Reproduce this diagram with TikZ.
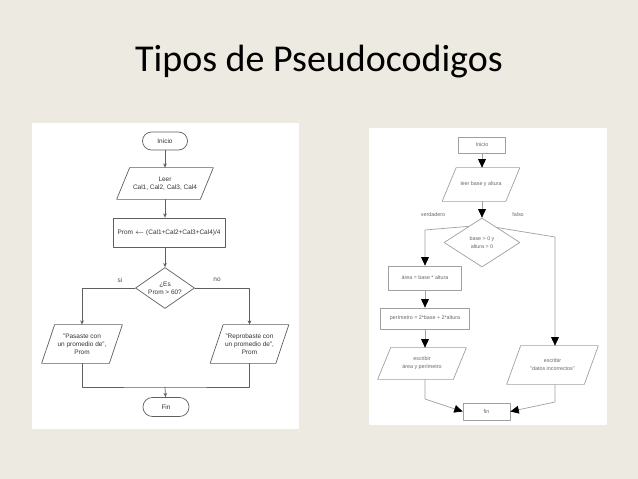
\documentclass[tikz,border=0pt]{standalone}
\usepackage{fontspec}
\setmainfont{Liberation Sans}
\newfontfamily\titlefont{Carlito}
\usetikzlibrary{shapes.geometric,arrows.meta,calc}
\definecolor{fondo}{RGB}{237,235,225}
\definecolor{linea}{RGB}{95,95,95}
\definecolor{lineaclara}{RGB}{160,160,160}
\tikzset{
	izq/.style={draw=linea, line width=0.5pt, text=black!80, font=\fontsize{4.6}{5.8}\selectfont, align=center, inner sep=0pt},
	der/.style={draw=lineaclara, line width=0.5pt, text=black!60, font=\fontsize{3.8}{5.6}\selectfont, align=center, inner sep=0pt},
	para/.style={rectangle, draw=none},
	flecha/.style={draw=linea, line width=0.5pt, -{Stealth[length=3pt,width=2.6pt]}},
	triflecha/.style={draw=lineaclara, line width=0.5pt, -{Triangle[length=6pt,width=5.5pt,fill=black,color=black]}},
}
% contorno inclinado de un nodo de entrada/salida
\newcommand{\paralelo}[3]{\draw[#1, line width=0.5pt] ($(#2.north west)+(#3,0)$) -- (#2.north east) -- ($(#2.south east)-(#3,0)$) -- (#2.south west) -- cycle;}
\begin{document}
\begin{tikzpicture}[x=0.025cm, y=-0.025cm, line join=round, line cap=round]
	\fill[fondo] (0,0) rectangle (638,479);
	\useasboundingbox (0,0) rectangle (638,479);
	
	\node[font=\titlefont\fontsize{27}{30}\selectfont, anchor=base] (titulo) at (319,72) {Tipos de Pseudocodigos};
	
	\fill[white] (32,123) rectangle (299,429);
	\fill[white] (369,128) rectangle (607,425);
	
	% promedio
	\coordinate (union) at (165,387);
	
	\node[izq, rounded corners=0.225cm, minimum width=1.125cm, minimum height=0.45cm] (inicio) at (165,141) {Inicio};
	\node[izq, para, minimum width=2.4cm, minimum height=0.775cm] (leer) at (165,183.5) {Leer\\Cal1, Cal2, Cal3, Cal4};
	\node[izq, rectangle, minimum width=2.8cm, minimum height=0.725cm] (prom) at (169,232.5) {Prom $\leftarrow$ (Cal1+Cal2+Cal3+Cal4)/4};
	\node[izq, diamond, aspect=1.44, minimum width=1.475cm, minimum height=1.025cm] (cond) at (165,288) {¿Es\\Prom > 60?};
	\node[izq, para, minimum width=2.0cm, minimum height=0.95cm] (pasaste) at (82,344) {"Pasaste con\\un promedio de",\\Prom};
	\node[izq, para, minimum width=1.95cm, minimum height=0.95cm] (reprobaste) at (249.5,344) {"Reprobaste con\\un promedio de",\\Prom};
	\node[izq, rounded corners=0.235cm, minimum width=1.15cm, minimum height=0.475cm] (fin) at (166,407) {Fin};
	
	\paralelo{linea}{leer}{13}
	\paralelo{linea}{pasaste}{13}
	\paralelo{linea}{reprobaste}{13}
	
	\draw[flecha] (inicio) -- (leer);
	\draw[flecha] (leer.south) -- (leer.south |- prom.north);
	\draw[flecha] (cond.north |- prom.south) -- (cond.north);
	\draw[flecha] (cond.west) -| (pasaste.north);
	\draw[flecha] (cond.east) -| (reprobaste.north);
	\draw[linea, line width=0.5pt] (pasaste.south) |- (union) -| (reprobaste.south);
	\draw[flecha] (union) -- (fin);
	
	\node[text=black!70, font=\fontsize{4.6}{5.8}\selectfont] (si) at (120,280) {si};
	\node[text=black!70, font=\fontsize{4.6}{5.8}\selectfont] (no) at (217,280) {no};
	
	% area y perimetro
	\coordinate (vl) at (425,230);
	\coordinate (vr) at (555,237);
	\coordinate (dl) at (425,399);
	\coordinate (dr) at (555,402);
	
	\node[der, rectangle, minimum width=1.175cm, minimum height=0.4cm] (inicio2) at (482,145) {Inicio};
	\node[der, para, minimum width=1.925cm, minimum height=0.825cm] (leer2) at (481,184.5) {leer base y altura};
	\node[der, diamond, aspect=1.55, minimum width=1.9cm, minimum height=1.225cm] (cond2) at (482,242.5) {base > 0 y\\altura > 0};
	\node[der, rectangle, minimum width=1.825cm, minimum height=0.6cm] (area) at (425,278) {área = base * altura};
	\node[der, rectangle, minimum width=2.225cm, minimum height=0.525cm] (perim) at (425,318.5) {perímetro = 2*base + 2*altura};
	\node[der, para, minimum width=2.2cm, minimum height=0.775cm] (escr1) at (422,363.5) {escribir\\área y perímetro};
	\node[der, para, minimum width=2.275cm, minimum height=0.95cm] (escr2) at (552.5,365) {escribir\\"datos incorrectos"};
	\node[der, rectangle, minimum width=1.175cm, minimum height=0.425cm] (fin2) at (486.5,411.5) {fin};
	
	\paralelo{lineaclara}{leer2}{14}
	\paralelo{lineaclara}{escr1}{13}
	\paralelo{lineaclara}{escr2}{14}
	
	\draw[triflecha] (inicio2) -- (inicio2 |- leer2.north);
	\draw[triflecha] (cond2.north |- leer2.south) -- (cond2.north);
	\draw[triflecha] ($(cond2.north)!0.35!(cond2.west)$) -- (vl) -- (vl |- area.north);
	\draw[triflecha] ($(cond2.north)!0.4!(cond2.east)$) -- (vr) -- (vr |- escr2.north);
	\draw[triflecha] (area) -- (perim);
	\draw[triflecha] (perim.south) -- (perim.south |- escr1.north);
	\draw[triflecha] (dl |- escr1.south) -- (dl) -- (fin2.west);
	\draw[triflecha] (dr |- escr2.south) -- (dr) -- (fin2.east);
	
	\node[text=black!60, font=\fontsize{3.8}{5.6}\selectfont] (verdadero) at (433,215) {verdadero};
	\node[text=black!60, font=\fontsize{3.8}{5.6}\selectfont] (falso) at (518,215) {falso};
\end{tikzpicture}
\end{document}
